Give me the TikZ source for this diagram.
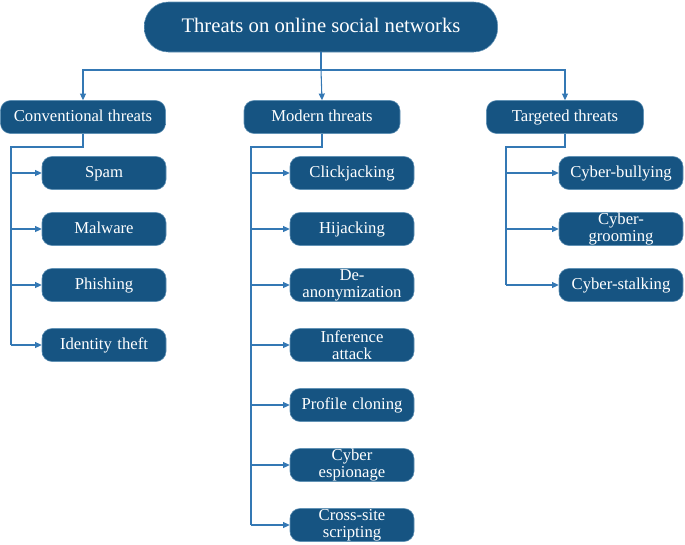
\documentclass[tikz,border=0pt]{standalone}
\usepackage{fontspec}
\setmainfont{Liberation Serif}
\usepackage{tikz}
\usetikzlibrary{arrows.meta, positioning, calc}

\definecolor{boxblue}{RGB}{22,84,130}
\definecolor{boxmid}{RGB}{30,100,150}
\definecolor{linkblue}{RGB}{52,120,180}

\begin{document}
\begin{tikzpicture}[x=0.75pt, y=-0.75pt,
    box/.style={rounded corners=7.5pt, draw=boxmid!70!white, line width=0.4pt,
        left color=boxblue, middle color=boxmid, right color=boxblue,
        text=white, align=center, font=\fontsize{12.5}{13}\selectfont,
        inner sep=0pt, minimum height=24.75pt, text height=8.5pt, text depth=2.5pt},
    leaf/.style={box, text width=93pt, minimum width=93pt},
    twoline/.style={leaf, text height={}, text depth={}},
    link/.style={draw=linkblue, line width=0.8pt},
    tip/.style={link, -{Triangle[length=5pt, width=4.5pt]}}]
    \useasboundingbox (0,0) rectangle (685,544);

    % root
    \node[box, rounded corners=18pt, minimum width=265pt, minimum height=37.5pt,
        font=\fontsize{15.5}{17}\selectfont, text height=10.5pt, text depth=3pt] (root) at (321,27) {Threats on online social networks};

    % first level
    \node[box, minimum width=123.75pt] (conv) at (83,117) {Conventional threats};
    \node[box, minimum width=117pt] (mod) at (322,117) {Modern threats};
    \node[box, minimum width=117.75pt] (targ) at (565,117) {Targeted threats};

    % conventional threats
    \node[leaf] (spam) at (104,173) {Spam};
    \node[leaf] (malw) at (104,229) {Malware};
    \node[leaf] (phish) at (104,285) {Phishing};
    \node[leaf] (ident) at (104,345) {Identity theft};

    % modern threats
    \node[leaf] (click) at (352,173) {Clickjacking};
    \node[leaf] (hijack) at (352,229) {Hijacking};
    \node[twoline] (deanon) at (352,285) {De-\\anonymization};
    \node[twoline] (infer) at (352,345) {Inference\\attack};
    \node[leaf] (clone) at (352,405) {Profile cloning};
    \node[twoline] (espion) at (352,465) {Cyber\\espionage};
    \node[twoline] (xss) at (352,525) {Cross-site\\scripting};

    % targeted threats
    \node[leaf] (bully) at (621,173) {Cyber-bullying};
    \node[twoline] (groom) at (621,229) {Cyber-\\grooming};
    \node[leaf] (stalk) at (621,285) {Cyber-stalking};

    % root to first level
    \coordinate (bus) at (321,70);
    \draw[link] (root.south) -- (bus);
    \draw[tip] (bus) -| (conv.north);
    \draw[tip] (bus) -| (targ.north);
    \draw[tip] (bus) -- (mod.north);

    % first level to leaves
    \draw[link] (conv.south) |- (11,147) -- (11,345);
    \foreach \n in {spam, malw, phish, ident}
        \draw[tip] (11,0 |- \n.west) -- (\n.west);

    \draw[link] (mod.south) |- (251,147) -- (251,525);
    \foreach \n in {click, hijack, deanon, infer, clone, espion, xss}
        \draw[tip] (251,0 |- \n.west) -- (\n.west);

    \draw[link] (targ.south) |- (506,147) -- (506,285);
    \foreach \n in {bully, groom, stalk}
        \draw[tip] (506,0 |- \n.west) -- (\n.west);
\end{tikzpicture}
\end{document}
